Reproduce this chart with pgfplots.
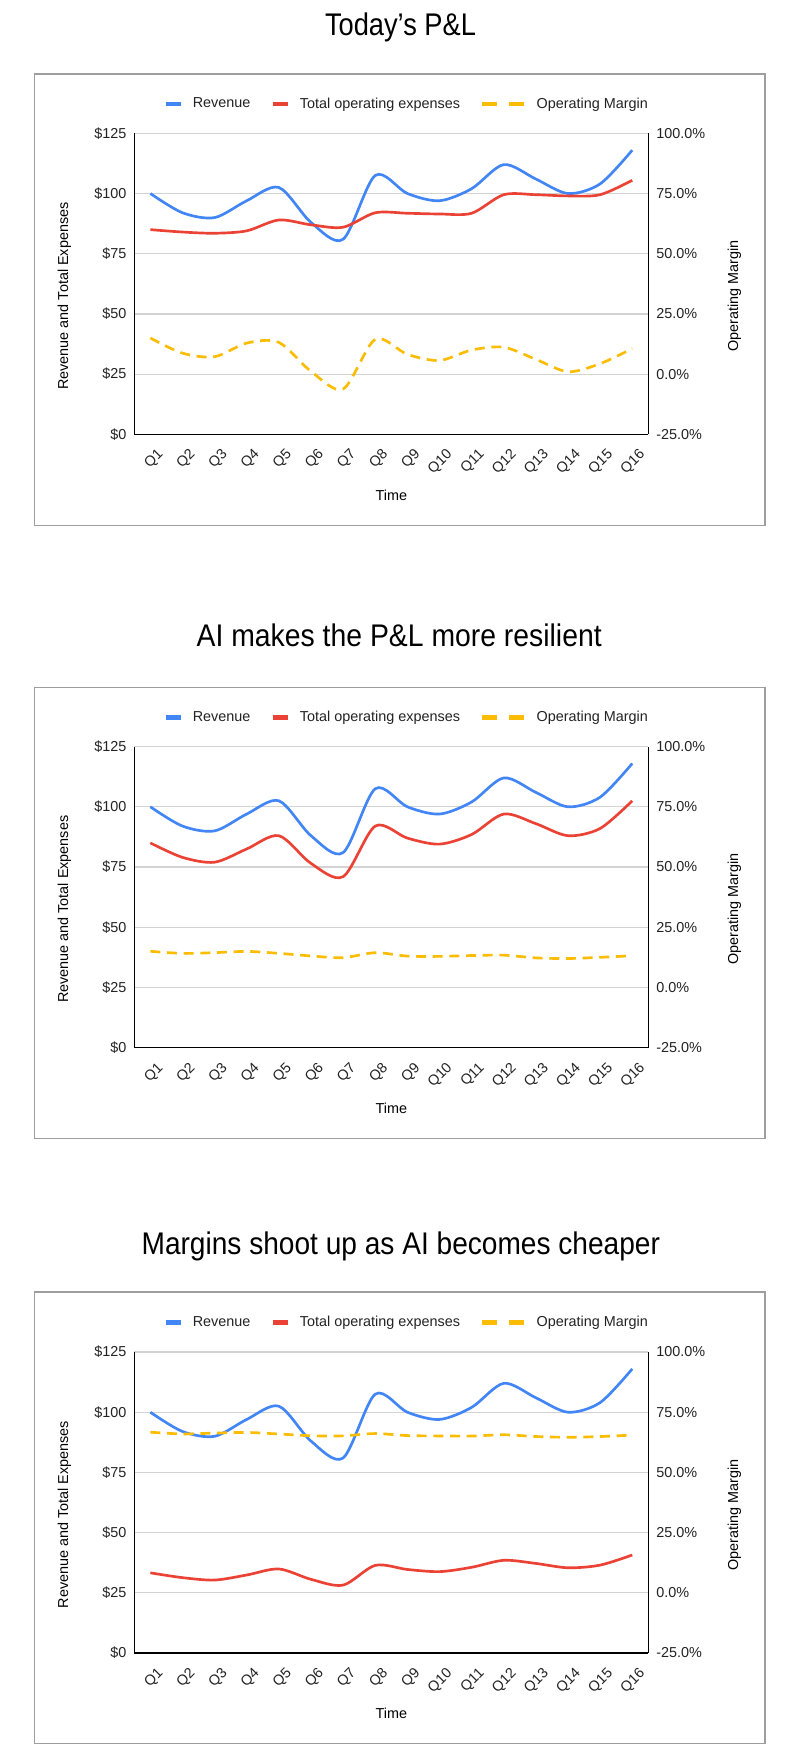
\documentclass[border=0pt]{standalone}
\usepackage{fontspec}
\setmainfont{Liberation Sans}
\newfontfamily\titlefont{Liberation Sans}
\usepackage{graphicx}
\usepackage{pgfplots}
\pgfplotsset{compat=1.18}
\usepackage{pgfplotstable}

\definecolor{gblue}{HTML}{4285F4}
\definecolor{gred}{HTML}{EA4335}
\definecolor{gyellow}{HTML}{FBBC04}
\definecolor{gridgray}{HTML}{D3D3D3}
\definecolor{framegray}{HTML}{9E9E9E}
\definecolor{textcol}{HTML}{222222}

\pgfplotstableread{
q rev exp mar
1 100 85 15.00
2 92 84 8.70
3 90 83.5 7.22
4 97 84.5 12.89
5 102.5 89 13.17
6 88 87 1.14
7 81 86 -6.17
8 107.5 92 14.42
9 100 91.8 8.20
10 97 91.5 5.67
11 102 91.8 10.00
12 112 99.5 11.16
13 106 99.5 6.13
14 100 99 1.00
15 104 99.5 4.33
16 118 105.5 10.59
}\tabA

\pgfplotstableread{
q rev exp mar
1 100 85 15.00
2 92 79 14.13
3 90 77 14.44
4 97 82.5 14.95
5 102.5 88 14.15
6 88 76.5 13.07
7 81 71 12.35
8 107.5 92 14.42
9 100 87 13.00
10 97 84.5 12.89
11 102 88.5 13.24
12 112 97 13.39
13 106 93 12.26
14 100 88 12.00
15 104 91 12.50
16 118 102.5 13.14
}\tabB

\pgfplotstableread{
q rev exp mar
1 100 33.3 66.70
2 92 31.3 65.98
3 90 30.3 66.33
4 97 32.4 66.60
5 102.5 34.9 65.95
6 88 30.6 65.23
7 81 28.2 65.19
8 107.5 36.4 66.14
9 100 34.7 65.30
10 97 33.8 65.15
11 102 35.6 65.10
12 112 38.5 65.63
13 106 37.2 64.91
14 100 35.4 64.60
15 104 36.5 64.90
16 118 40.7 65.51
}\tabC

\pgfplotsset{
  base/.style={
    scale only axis, width=385.5pt, height=225.75pt,
    xmin=0.5, xmax=16.5,
    major tick length=0pt, tick style={draw=none},
    axis line style={-, draw=black, line width=1pt},
    /pgf/number format/assume math mode=true,
    ticklabel style={text=textcol, font=\fontsize{10.8pt}{13pt}\selectfont},
    label style={text=textcol, font=\fontsize{10.8pt}{13pt}\selectfont},
  },
  leftax/.style={
    base,
    ymin=0, ymax=125, ytick={0,25,50,75,100,125},
    yticklabels={\$0,\$25,\$50,\$75,\$100,\$125},
    axis x line*=bottom, axis y line*=left,
    ymajorgrids, grid style={draw=gridgray, line width=0.9pt},
    xtick={1,...,16},
    xticklabels={Q1,Q2,Q3,Q4,Q5,Q6,Q7,Q8,Q9,Q10,Q11,Q12,Q13,Q14,Q15,Q16},
    xticklabel style={inner sep=0pt, xshift=4.5pt, yshift=-10pt, rotate=45, anchor=north east},
    yticklabel style={inner sep=0pt, anchor=east, xshift=-5.7pt},
    xlabel={Time}, ylabel={Revenue and Total Expenses},
    every axis x label/.style={at={(axis description cs:0.5,-0.2017)}, anchor=center},
    every axis y label/.style={at={(axis description cs:-0.1362,0.4595)}, rotate=90, anchor=center},
  },
  rightax/.style={
    base,
    ymin=-25, ymax=100, ytick={-25,0,25,50,75,100},
    yticklabels={-25.0\%,0.0\%,25.0\%,50.0\%,75.0\%,100.0\%},
    axis x line=none, axis y line*=right,
    yticklabel style={inner sep=0pt, anchor=west, xshift=5.8pt},
    ylabel={Operating Margin},
    every axis y label/.style={at={(axis description cs:1.1673,0.4595)}, rotate=90, anchor=center},
    legend cell align=left,
    legend style={draw=none, fill=none, inner sep=0pt, outer sep=0pt,
      at={(0.0564,1.0973)}, anchor=west, legend columns=-1,
      font=\fontsize{10.8pt}{13pt}\selectfont,
      nodes={inner sep=0pt, text=textcol},
      /tikz/every odd column/.append style={column sep=7.5pt},
      /tikz/every even column/.append style={column sep=15pt}},
  },
  revline/.style={gblue, line width=2pt, smooth, mark=none},
  expline/.style={gred, line width=2pt, smooth, mark=none},
  marline/.style={gyellow, line width=2pt, smooth, mark=none, dash pattern=on 7.5pt off 5pt,
    legend image code/.code={\draw[gyellow, line width=3.4pt, dash pattern=on 11.25pt off 9pt] (0pt,0pt) -- (31.5pt,0pt);}},
  revleg/.style={legend image code/.code={\draw[gblue, line width=3.4pt] (0pt,0pt) -- (11.25pt,0pt);}},
  expleg/.style={legend image code/.code={\draw[gred, line width=3.4pt] (0pt,0pt) -- (11.25pt,0pt);}},
}

\begin{document}
\fontsize{10.8pt}{13pt}\selectfont
\begin{tikzpicture}[font=\fontsize{10.8pt}{13pt}\selectfont]
\begin{scope}[x=0.75pt, y=-0.75pt]
  \path (0,0) rectangle (800,1750);
  % frames
  \draw[framegray, line width=1pt] (34.3,74) rectangle (765,525.3);
  \draw[framegray, line width=1pt] (34.3,687.3) rectangle (765,1138.6);
  \draw[framegray, line width=1pt] (34.3,1292) rectangle (765,1743.3);
  % titles
  \node[anchor=base, inner sep=0pt, text=black] at (400.5,35)
    {\resizebox{113.25pt}{17pt}{\titlefont Today’s P\&L}};
  \node[anchor=base, inner sep=0pt, text=black] at (399.2,646.7)
    {\resizebox{303.75pt}{17pt}{\titlefont AI makes the P\&L more resilient}};
  \node[anchor=base, inner sep=0pt, text=black] at (400.8,1254)
    {\resizebox{388.7pt}{17pt}{\titlefont Margins shoot up as AI becomes cheaper}};
\end{scope}

% ---------- Chart 1 ----------
\begin{axis}[leftax, at={(100.725pt,-325.725pt)}, anchor=south west]
  \addplot[revline] table[x=q, y=rev] {\tabA};
  \addplot[expline] table[x=q, y=exp] {\tabA};
\end{axis}
\begin{axis}[rightax, at={(100.725pt,-325.725pt)}, anchor=south west]
  \addlegendimage{revleg}
  \addlegendentry{Revenue}
  \addlegendimage{expleg}
  \addlegendentry{Total operating expenses}
  \addplot[marline] table[x=q, y=mar] {\tabA};
  \addlegendentry{Operating Margin}
\end{axis}

% ---------- Chart 2 ----------
\begin{axis}[leftax, at={(100.725pt,-785.7pt)}, anchor=south west]
  \addplot[revline] table[x=q, y=rev] {\tabB};
  \addplot[expline] table[x=q, y=exp] {\tabB};
\end{axis}
\begin{axis}[rightax, at={(100.725pt,-785.7pt)}, anchor=south west]
  \addlegendimage{revleg}
  \addlegendentry{Revenue}
  \addlegendimage{expleg}
  \addlegendentry{Total operating expenses}
  \addplot[marline] table[x=q, y=mar] {\tabB};
  \addlegendentry{Operating Margin}
\end{axis}

% ---------- Chart 3 ----------
\begin{axis}[leftax, at={(100.725pt,-1239.75pt)}, anchor=south west]
  \addplot[revline] table[x=q, y=rev] {\tabC};
  \addplot[expline] table[x=q, y=exp] {\tabC};
\end{axis}
\begin{axis}[rightax, at={(100.725pt,-1239.75pt)}, anchor=south west]
  \addlegendimage{revleg}
  \addlegendentry{Revenue}
  \addlegendimage{expleg}
  \addlegendentry{Total operating expenses}
  \addplot[marline] table[x=q, y=mar] {\tabC};
  \addlegendentry{Operating Margin}
\end{axis}
\end{tikzpicture}
\end{document}
